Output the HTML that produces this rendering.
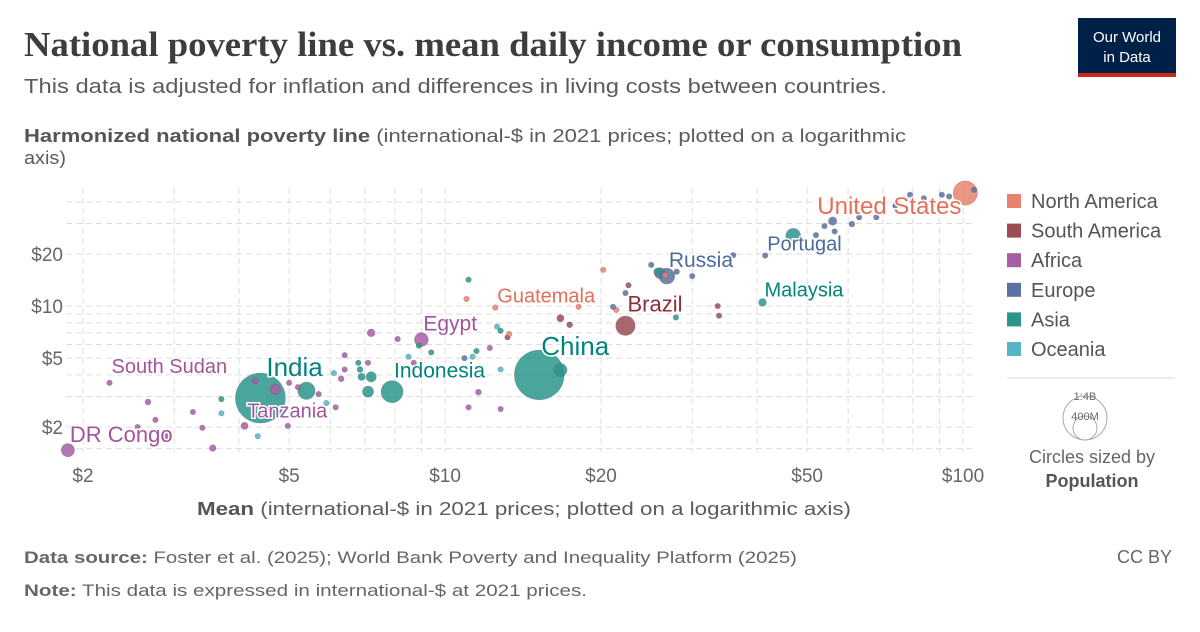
<!DOCTYPE html>
<html><head><meta charset="utf-8">
<style>
body{margin:0;background:#fff;width:1200px;height:627px;overflow:hidden;font-family:"Liberation Sans",sans-serif}
svg text{font-family:"Liberation Sans",sans-serif}
</style></head>
<body>
<svg id="chart" width="1200" height="627" viewBox="0 0 1200 627" xmlns="http://www.w3.org/2000/svg">
<text x="24" y="56" style="font-family:'Liberation Serif',serif" font-weight="bold" font-size="35" fill="#3d3d3d" textLength="938" lengthAdjust="spacingAndGlyphs">National poverty line vs. mean daily income or consumption</text>
<text x="24" y="93" font-size="20" fill="#5b5b5b" textLength="863" lengthAdjust="spacingAndGlyphs">This data is adjusted for inflation and differences in living costs between countries.</text>
<g>
<rect x="1078" y="18" width="98" height="58" fill="#002147"/>
<rect x="1078" y="73" width="98" height="4" fill="#ce261e"/>
<text x="1127" y="42" text-anchor="middle" font-size="15" fill="#fff">Our World</text>
<text x="1127" y="62" text-anchor="middle" font-size="15" fill="#fff">in Data</text>
</g>
<text x="24" y="142" font-size="18" fill="#5b5b5b" textLength="882" lengthAdjust="spacingAndGlyphs"><tspan font-weight="bold" fill="#555">Harmonized national poverty line</tspan> (international-$ in 2021 prices; plotted on a logarithmic</text>
<text x="24" y="164" font-size="18" fill="#5b5b5b" textLength="42" lengthAdjust="spacingAndGlyphs">axis)</text>
<g id="grid"></g>
<g id="yticks"></g>
<g id="xticks"></g>
<g id="points"></g>
<g id="labels"></g>
<text x="197" y="515" font-size="18" fill="#5b5b5b" textLength="654" lengthAdjust="spacingAndGlyphs"><tspan font-weight="bold" fill="#555">Mean</tspan> (international-$ in 2021 prices; plotted on a logarithmic axis)</text>
<g id="legend"></g>
<line x1="1007" y1="378" x2="1175" y2="378" stroke="#ddd"/>
<g>
<circle cx="1085" cy="418" r="22" fill="none" stroke="#aaa"/>
<circle cx="1085" cy="428" r="12" fill="none" stroke="#aaa"/>
<text x="1085" y="400" text-anchor="middle" font-size="11" fill="#666">1:4B</text>
<text x="1085" y="420" text-anchor="middle" font-size="11" fill="#666">400M</text>
<text x="1092" y="463" text-anchor="middle" font-size="18" fill="#666">Circles sized by</text>
<text x="1092" y="487" text-anchor="middle" font-size="18" font-weight="bold" fill="#555">Population</text>
</g>
<text x="24" y="563" font-size="17" fill="#666" textLength="773" lengthAdjust="spacingAndGlyphs"><tspan font-weight="bold">Data source:</tspan> Foster et al. (2025); World Bank Poverty and Inequality Platform (2025)</text>
<text x="24" y="596" font-size="17" fill="#666" textLength="563" lengthAdjust="spacingAndGlyphs"><tspan font-weight="bold">Note:</tspan> This data is expressed in international-$ at 2021 prices.</text>
<text x="1172" y="563" text-anchor="end" font-size="18" fill="#666">CC BY</text>
</svg>
<script>
const regions=["North America","South America","Africa","Europe","Asia","Oceania"];
const regionColors=["#e8826f","#9c4c55","#a65ea6","#5a72a0","#2a958c","#55b5c5"];
const xTickValues=[2,5,10,20,50,100];
const xTickLabels=["$2","$5","$10","$20","$50","$100"];
const yTickValues=[2,5,10,20];
const yTickLabels=["$2","$5","$10","$20"];
const countries=["United States","China","India","Brazil","Indonesia","Russia","Egypt","Tanzania","DR Congo","South Sudan","Malaysia","Portugal","Guatemala","Japan"];
const ptRegion=[0,4,4,1,4,3,2,2,2,2,4,3,0,4,
2,2,2,2,2,2,2,2,2,2,2,2,2,2,2,2,2,2,2,2,2,2,2,2,2,
4,4,4,4,4,4,4,4,4,4,4,4,4,4,4,
5,5,5,5,5,5,5,5,
3,3,3,3,3,3,3,3,3,3,3,3,3,3,3,3,3,3,3,3,3,
1,1,1,1,1,1,
0,0,0,0,0,0];
const ptMean=[101,15.2,4.4,22.3,7.9,26.8,9,4.7,1.87,2.25,41,41.5,12.5,47,
2.67,2.76,3.26,3.4,3.56,4.1,4.97,6.15,7.2,8.1,12.2,11.6,11.1,12.8,6.4,8.7,7.1,6.4,6.3,5.2,4.3,5.0,5.7,2.55,2.9,
7.2,6.9,5.4,6.8,6.85,3.7,9.4,8.9,11.5,12.8,7.1,16.7,11.1,25.7,27.9,
8.5,12.6,11.3,12.8,6.1,5.9,3.7,4.35,
10.9,21.1,25,22.3,28,30,36,52,54,56,56.5,61,63,68,74,79,84,91,94,105,26,
33.6,33.8,22.6,17.4,13.2,16.7,
26.6,21.4,11,20.2,18.1,13.3];
const ptLine=[45,4.0,2.94,7.7,3.2,14.9,6.4,3.3,1.47,3.6,10.5,19.6,9.8,25.5,
2.79,2.2,2.44,1.98,1.51,2.03,2.03,2.6,7.0,6.45,5.73,3.18,2.6,2.54,5.2,4.7,4.7,4.3,3.8,3.4,3.7,3.6,3.1,2.0,1.77,
3.9,3.9,3.24,4.7,4.3,2.9,5.4,5.9,5.5,7.2,3.2,4.27,14.2,15.8,8.6,
5.1,7.6,5.1,4.3,4.1,2.75,2.4,1.77,
5.0,9.9,17.3,11.9,15.8,14.9,19.7,25.7,29,31,27,29.8,32.6,32.6,38,44,42,44,43,47,15.5,
10.0,8.8,13.2,7.8,6.6,8.5,
15.1,9.5,11.0,16.2,9.9,6.9];
const ptPop=[335,1410,1420,215,275,144,110,65,100,11,34,10,18,125,
20,15,12,10,25,30,8,12,35,10,10,20,8,5,10,10,8,15,20,5,25,10,15,5,15,
60,30,170,10,20,8,10,12,10,5,70,100,5,30,8,
5,3,3,3,2,9,3,2,
2,2,8,10,4,4,3,2,5,40,6,20,5,10,3,2,3,4,2,10,70,
3,3,3,20,3,30,
3,3,3,3,3,3];
const labelText=["United States","China","India","Brazil","Indonesia","Russia","Egypt","Tanzania","DR Congo","South Sudan","Malaysia","Portugal","Guatemala"];
const labelColor=["#e56e5a","#00847e","#00847e","#883039","#00847e","#4c6a9c","#a2559c","#a2559c","#a2559c","#a2559c","#00847e","#4c6a9c","#e56e5a"];
const labelSize=[24,26,26,22,21,21,21,20,22,20,20,20,20];
const labelDx=[-148,2,6,2,2,2,2,-28,2,2,2,2,2];
const labelDy=[21,-20,-22,-14,-14,-9,-9,28,-8,-10,-6,-5,-5];

const NS="http://www.w3.org/2000/svg";
const xS=v=>83+518*Math.log10(v/2);
const yS=v=>427-173*Math.log10(v/2);
const rS=p=>25*Math.sqrt(p/1420);
function mk(tag,attrs,parent){const e=document.createElementNS(NS,tag);for(const k in attrs)e.setAttribute(k,attrs[k]);parent.appendChild(e);return e;}
const grid=document.getElementById('grid');
const gx=[2,3,4,5,6,7,8,9,10,20,30,40,50,60,70,80,90,100];
gx.forEach(v=>{const l=mk('line',{x1:xS(v),x2:xS(v),y1:188,y2:452,stroke:'#ddd','stroke-dasharray':'6,4'},grid);

});
const gy=[1.5,2,3,4,5,6,7,8,9,10,20,30,40];
gy.forEach(v=>{const l=mk('line',{x1:66,x2:976,y1:yS(v),y2:yS(v),stroke:'#ddd','stroke-dasharray':'6,4'},grid);

});
const yt=document.getElementById('yticks');
yTickValues.forEach((v,i)=>{const t=mk('text',{x:63,y:yS(v)+7,'text-anchor':'end','font-size':19,fill:'#666'},yt);t.textContent=yTickLabels[i];

});
const xt=document.getElementById('xticks');
xTickValues.forEach((v,i)=>{const t=mk('text',{x:xS(v),y:482,'text-anchor':'middle','font-size':19,fill:'#666'},xt);t.textContent=xTickLabels[i];

});
const pts=document.getElementById('points');
const idx=ptMean.map((_,i)=>i).sort((a,b)=>ptPop[b]-ptPop[a]);
idx.forEach(i=>{const c=mk('circle',{cx:xS(ptMean[i]),cy:yS(ptLine[i]),r:Math.max(2.8,rS(ptPop[i])),fill:regionColors[ptRegion[i]],'fill-opacity':0.85,stroke:'#555','stroke-opacity':0.35,'stroke-width':0.6},pts);

});
const lg=document.getElementById('labels');
labelText.forEach((s,i)=>{const t=mk('text',{x:xS(ptMean[i])+labelDx[i],y:yS(ptLine[i])+labelDy[i],'font-size':labelSize[i],fill:labelColor[i],stroke:'#fff','stroke-width':3,'paint-order':'stroke'},lg);t.textContent=s;

});
const leg=document.getElementById('legend');
regions.forEach((r,i)=>{const y=201+i*29.6;
const s=mk('rect',{x:1007,y:y-7,width:14,height:14,fill:regionColors[i]},leg);


const t=mk('text',{x:1031,y:y+7,'font-size':20,fill:'#555'},leg);t.textContent=r;

});
</script>
</body></html>
